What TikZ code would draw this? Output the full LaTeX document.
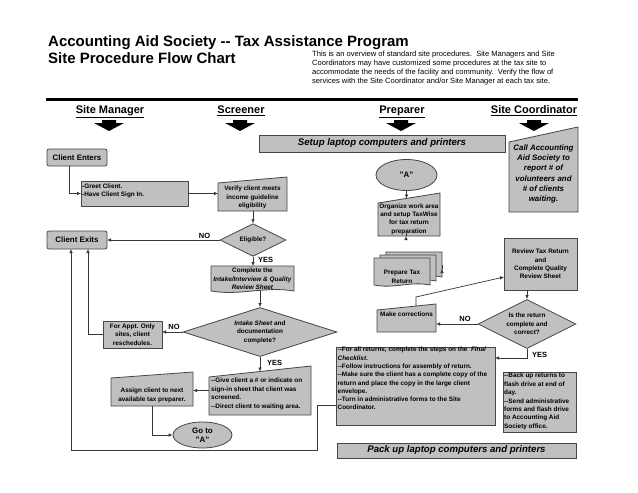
\documentclass[tikz,border=0pt]{standalone}
\usepackage{fontspec}
\setmainfont{Liberation Sans}
\usetikzlibrary{arrows.meta,calc,shapes.geometric}
\pgfdeclarelayer{bg}
\pgfsetlayers{bg,main}
\definecolor{boxfill}{RGB}{192,192,192}
\definecolor{edgecol}{RGB}{70,70,70}
\definecolor{linecol}{RGB}{55,55,55}
\newcommand\AAStitle{\fontsize{15}{17}\selectfont\bfseries}
\newcommand\AASdesc{\fontsize{7.55}{9}\selectfont}
\newcommand\AAShdr{\fontsize{11}{13}\selectfont\bfseries}
\newcommand\AASsmall{\fontsize{6.4}{8.4}\selectfont\bfseries}
\newcommand\AASmid{\fontsize{7.9}{9.5}\selectfont\bfseries}
\newcommand\AASit{\fontsize{7.9}{10.2}\selectfont\bfseries\itshape}
\newcommand\AASbig{\fontsize{9.6}{11}\selectfont\bfseries\itshape}
\newcommand\AASlab{\fontsize{7.5}{9}\selectfont\bfseries}
\newcommand\maninshape[2]{\begin{pgfonlayer}{bg}\path[boxpath] ($(#1.north west)+(0,#2)$) -- (#1.north east) -- (#1.south east) -- (#1.south west) -- cycle;\end{pgfonlayer}}
\newcommand\docshape[2]{\begin{pgfonlayer}{bg}\path[boxpath] (#1.north west) -- (#1.south west) .. controls ($(#1.south west)!0.35!(#1.south east)+(0,#2)$) and ($(#1.south west)!0.65!(#1.south east)+(0,-#2)$) .. (#1.south east) -- (#1.north east) -- cycle;\end{pgfonlayer}}
\newcommand\blockdown[1]{\fill[black] (#1-7,120) -- (#1+7,120) -- (#1+7,123) -- (#1+15,123) -- (#1,131) -- (#1-15,123) -- (#1-7,123) -- cycle;}
\tikzset{
  boxpath/.style={draw=edgecol, fill=boxfill, line width=0.8pt},
  shp/.style={draw=none, inner sep=0, outer sep=0},
  rectbox/.style={boxpath, inner sep=0, outer sep=0, align=center, font=\AASsmall},
  rndbox/.style={rectbox, rounded corners=2pt, font=\AASmid},
  txt/.style={inner sep=0, align=center, font=\AASsmall},
  hdr/.style={inner sep=0, anchor=base, font=\AAShdr},
  lab/.style={inner sep=0, font=\AASlab},
  dia/.style={diamond, boxpath, inner sep=0, align=center, font=\AASsmall},
  ell/.style={ellipse, boxpath, inner sep=0, align=center, font=\AASmid},
  arr/.style={draw=linecol, line width=0.7pt, -{Latex[length=4pt,width=3.6pt]}},
}
\begin{document}
\begin{tikzpicture}[x=1pt,y=-1pt]
\begin{pgfonlayer}{bg}\fill[white] (0,0) rectangle (638,493);\end{pgfonlayer}
\useasboundingbox (0,0) rectangle (638,493);

% title and description
\node[anchor=base west, inner sep=0, font=\AAStitle] (t1) at (48,46) {Accounting Aid Society -{}- Tax Assistance Program};
\node[anchor=base west, inner sep=0, font=\AAStitle] (t2) at (48,63.5) {Site Procedure Flow Chart};
\node[anchor=north west, inner sep=0, align=left, font=\AASdesc] (desc) at (312,50.5) {This is an overview of standard site procedures.\ \ Site Managers and Site\\Coordinators may have customized some procedures at the tax site to\\accommodate the needs of the facility and community.\ \ Verify the flow of\\services with the Site Coordinator and/or Site Manager at each tax site.};
\draw[line width=2.6pt] (46,99.5) -- (578,99.5);

% headers
\node[hdr] (hsm) at (110,113.5) {\underline{Site Manager}};
\node[hdr] (hsc) at (241,113.5) {\underline{Screener}};
\node[hdr] (hpr) at (402,113.5) {\underline{Preparer}};
\node[hdr] (hco) at (534,113.5) {\underline{Site Coordinator}};
\blockdown{109}\blockdown{240}\blockdown{401}\blockdown{534}

% setup / pack
\node[rectbox, font=\AASbig, minimum width=246, minimum height=17] (setup) at (382,143.5) {Setup laptop computers and printers};
\node[rectbox, font=\AASbig, minimum width=239, minimum height=15] (pack) at (456.5,450.5) {Pack up laptop computers and printers};

% site coordinator call
\node[shp, minimum width=69, minimum height=85] (call) at (543.5,169.5) {};
\maninshape{call}{15}
\node[txt, font=\AASit] (callt) at (543.5,174) {Call Accounting\\Aid Society to\\report \# of\\volunteers and\\\# of clients\\waiting.};

% site manager column
\node[rndbox, minimum width=60, minimum height=17] (enters) at (77,157.5) {Client Enters};
\node[rndbox, minimum width=60, minimum height=18] (exits) at (77,240) {Client Exits};
\node[rectbox, minimum width=107, minimum height=25] (greet) at (134.5,193.5) {};
\node[txt, anchor=north west, align=left] (greett) at (82,183.5) {-Greet Client.\\-Have Client Sign In.};
\node[rectbox, minimum width=59, minimum height=27] (appt) at (132.5,334.5) {For Appt. Only\\sites, client\\reschedules.};

% screener column
\node[shp, minimum width=69, minimum height=34] (verify) at (252.5,194) {};
\maninshape{verify}{6}
\node[txt] (verifyt) at (252.5,197.5) {Verify client meets\\income guideline\\eligibility};
\node[dia, minimum width=66, minimum height=29] (elig) at (253,240) {Eligible?};
\node[shp, minimum width=83, minimum height=25] (complete) at (252.5,278.5) {};
\docshape{complete}{5}
\node[txt] (completet) at (252.5,279) {Complete the\\\textit{Intake/Interview \& Quality}\\\textit{Review Sheet}};
\node[dia, minimum width=154, minimum height=49, shape aspect=3.1] (intake) at (260,332) {\textit{Intake Sheet} and\\documentation\\complete?};
\node[shp, minimum width=102, minimum height=49] (give) at (260,390.5) {};
\maninshape{give}{11}
\node[txt, anchor=north west, align=left] (givet) at (211,378) {-{}-Give client a \# or indicate on\\sign-in sheet that client was\\screened.\\-{}-Direct client to waiting area.};
\node[shp, minimum width=82, minimum height=34] (assign) at (152,389) {};
\maninshape{assign}{6}
\node[txt] (assignt) at (152,395.5) {Assign client to next\\available tax preparer.};
\node[ell, minimum width=59, minimum height=26] (goA) at (202.5,435) {Go to\\"A"};

% preparer column
\node[ell, minimum width=61, minimum height=31] (A) at (406.5,175) {"A"};
\node[shp, minimum width=62, minimum height=43] (organize) at (409,214.5) {};
\maninshape{organize}{10}
\node[txt] (organizet) at (409,219) {Organize work area\\and setup TaxWise\\for tax return\\preparation};
\node[shp, minimum width=56, minimum height=25] (prep3) at (414,264.5) {};
\node[shp, minimum width=56, minimum height=26] (prep2) at (408,268) {};
\node[shp, minimum width=56, minimum height=27] (prep1) at (402,271.5) {};
\docshape{prep3}{4}\docshape{prep2}{4}\docshape{prep1}{4}
\node[txt] (prept) at (402,277) {Prepare Tax\\Return};
\node[shp, minimum width=59, minimum height=28] (makecorr) at (406.5,318) {};
\maninshape{makecorr}{6}
\node[txt] (makecorrt) at (406.5,314.5) {Make corrections};
\node[rectbox, minimum width=159, minimum height=78] (final) at (415.5,386) {};
\node[txt, anchor=north west, align=left, font=\fontsize{6.4}{8.3}\selectfont\bfseries] (finalt) at (337.5,347) {-{}-For all returns, complete the steps on the \ \textit{Final}\\\textit{Checklist}.\\-{}-Follow instructions for assembly of return.\\-{}-Make sure the client has a complete copy of the\\return and place the copy in the large client\\envelope.\\-{}-Turn in administrative forms to the Site\\Coordinator.};

% site coordinator column
\node[rectbox, minimum width=73, minimum height=52, font=\fontsize{6.4}{8.3}\selectfont\bfseries] (review) at (540.5,264) {Review Tax Return\\and\\Complete Quality\\Review Sheet};
\node[dia, minimum width=98, minimum height=49, shape aspect=2] (ret) at (527,324) {Is the return\\complete and\\correct?};
\node[rectbox, minimum width=73, minimum height=60] (backup) at (539.5,402) {};
\node[txt, anchor=north west, align=left, font=\fontsize{6.4}{8.4}\selectfont\bfseries] (backupt) at (504,373) {-{}-Back up returns to\\flash drive at end of\\day.\\-{}-Send administrative\\forms and flash drive\\to Accounting Aid\\Society office.};

% connectors
\draw[arr] ($(enters.south)+(-8,0)$) |- (greet.west);
\draw[arr] (greet.east) -- (greet.east -| verify.west);
\draw[arr] (elig.north |- verify.south) -- (elig.north);
\draw[arr] (elig.west) -- (exits.east);
\node[lab] (noelig) at (204.5,236) {NO};
\draw[arr] (elig.south) -- (elig.south |- complete.north);
\node[lab, anchor=west] (yeselig) at (258,260) {YES};
\draw[arr] (intake.north |- complete.south) -- (intake.north);
\draw[arr] (intake.west) -- (intake.west -| appt.east);
\node[lab] (nointake) at (174,327) {NO};
\draw[arr] (appt.west) -| ($(exits.south)+(11,0)$);
\draw[arr] (intake.south) -- ($(give.north)+(0,5.5)$);
\node[lab, anchor=west] (yesintake) at (267,363) {YES};
\draw[arr] (give.west) -- (give.west -| assign.east);
\draw[arr] (assign.south) |- (goA.west);
\draw[arr] ($(final.west)+(0,19)$) -| (317,450) -| ($(exits.south)+(-6,0)$);
\draw[arr] (A.south) -- (A.south |- 0,198.5);
\draw[arr] ($(organize.south)+(-3,0)$) -- ($(organize.south)+(-3,0)$ |- prep3.north);
\draw[arr] ($(prep3.east)+(0,4.5)$) -- ($(prep3.east)+(0,4.5)$ -| review.west);
\draw[arr] ($(makecorr.north)+(9.5,2)$) -- ($(makecorr.north)+(9.5,-7)$) -- ($(review.west)+(0,13)$);
\draw[arr] (ret.north |- review.south) -- (ret.north);
\draw[arr] (ret.west) -- (ret.west -| makecorr.east);
\node[lab] (noret) at (465,319) {NO};
\draw[arr] (ret.south) |- ($(final.north east)+(0,11)$);
\node[lab, anchor=west] (yesret) at (532,355) {YES};
\end{tikzpicture}
\end{document}
